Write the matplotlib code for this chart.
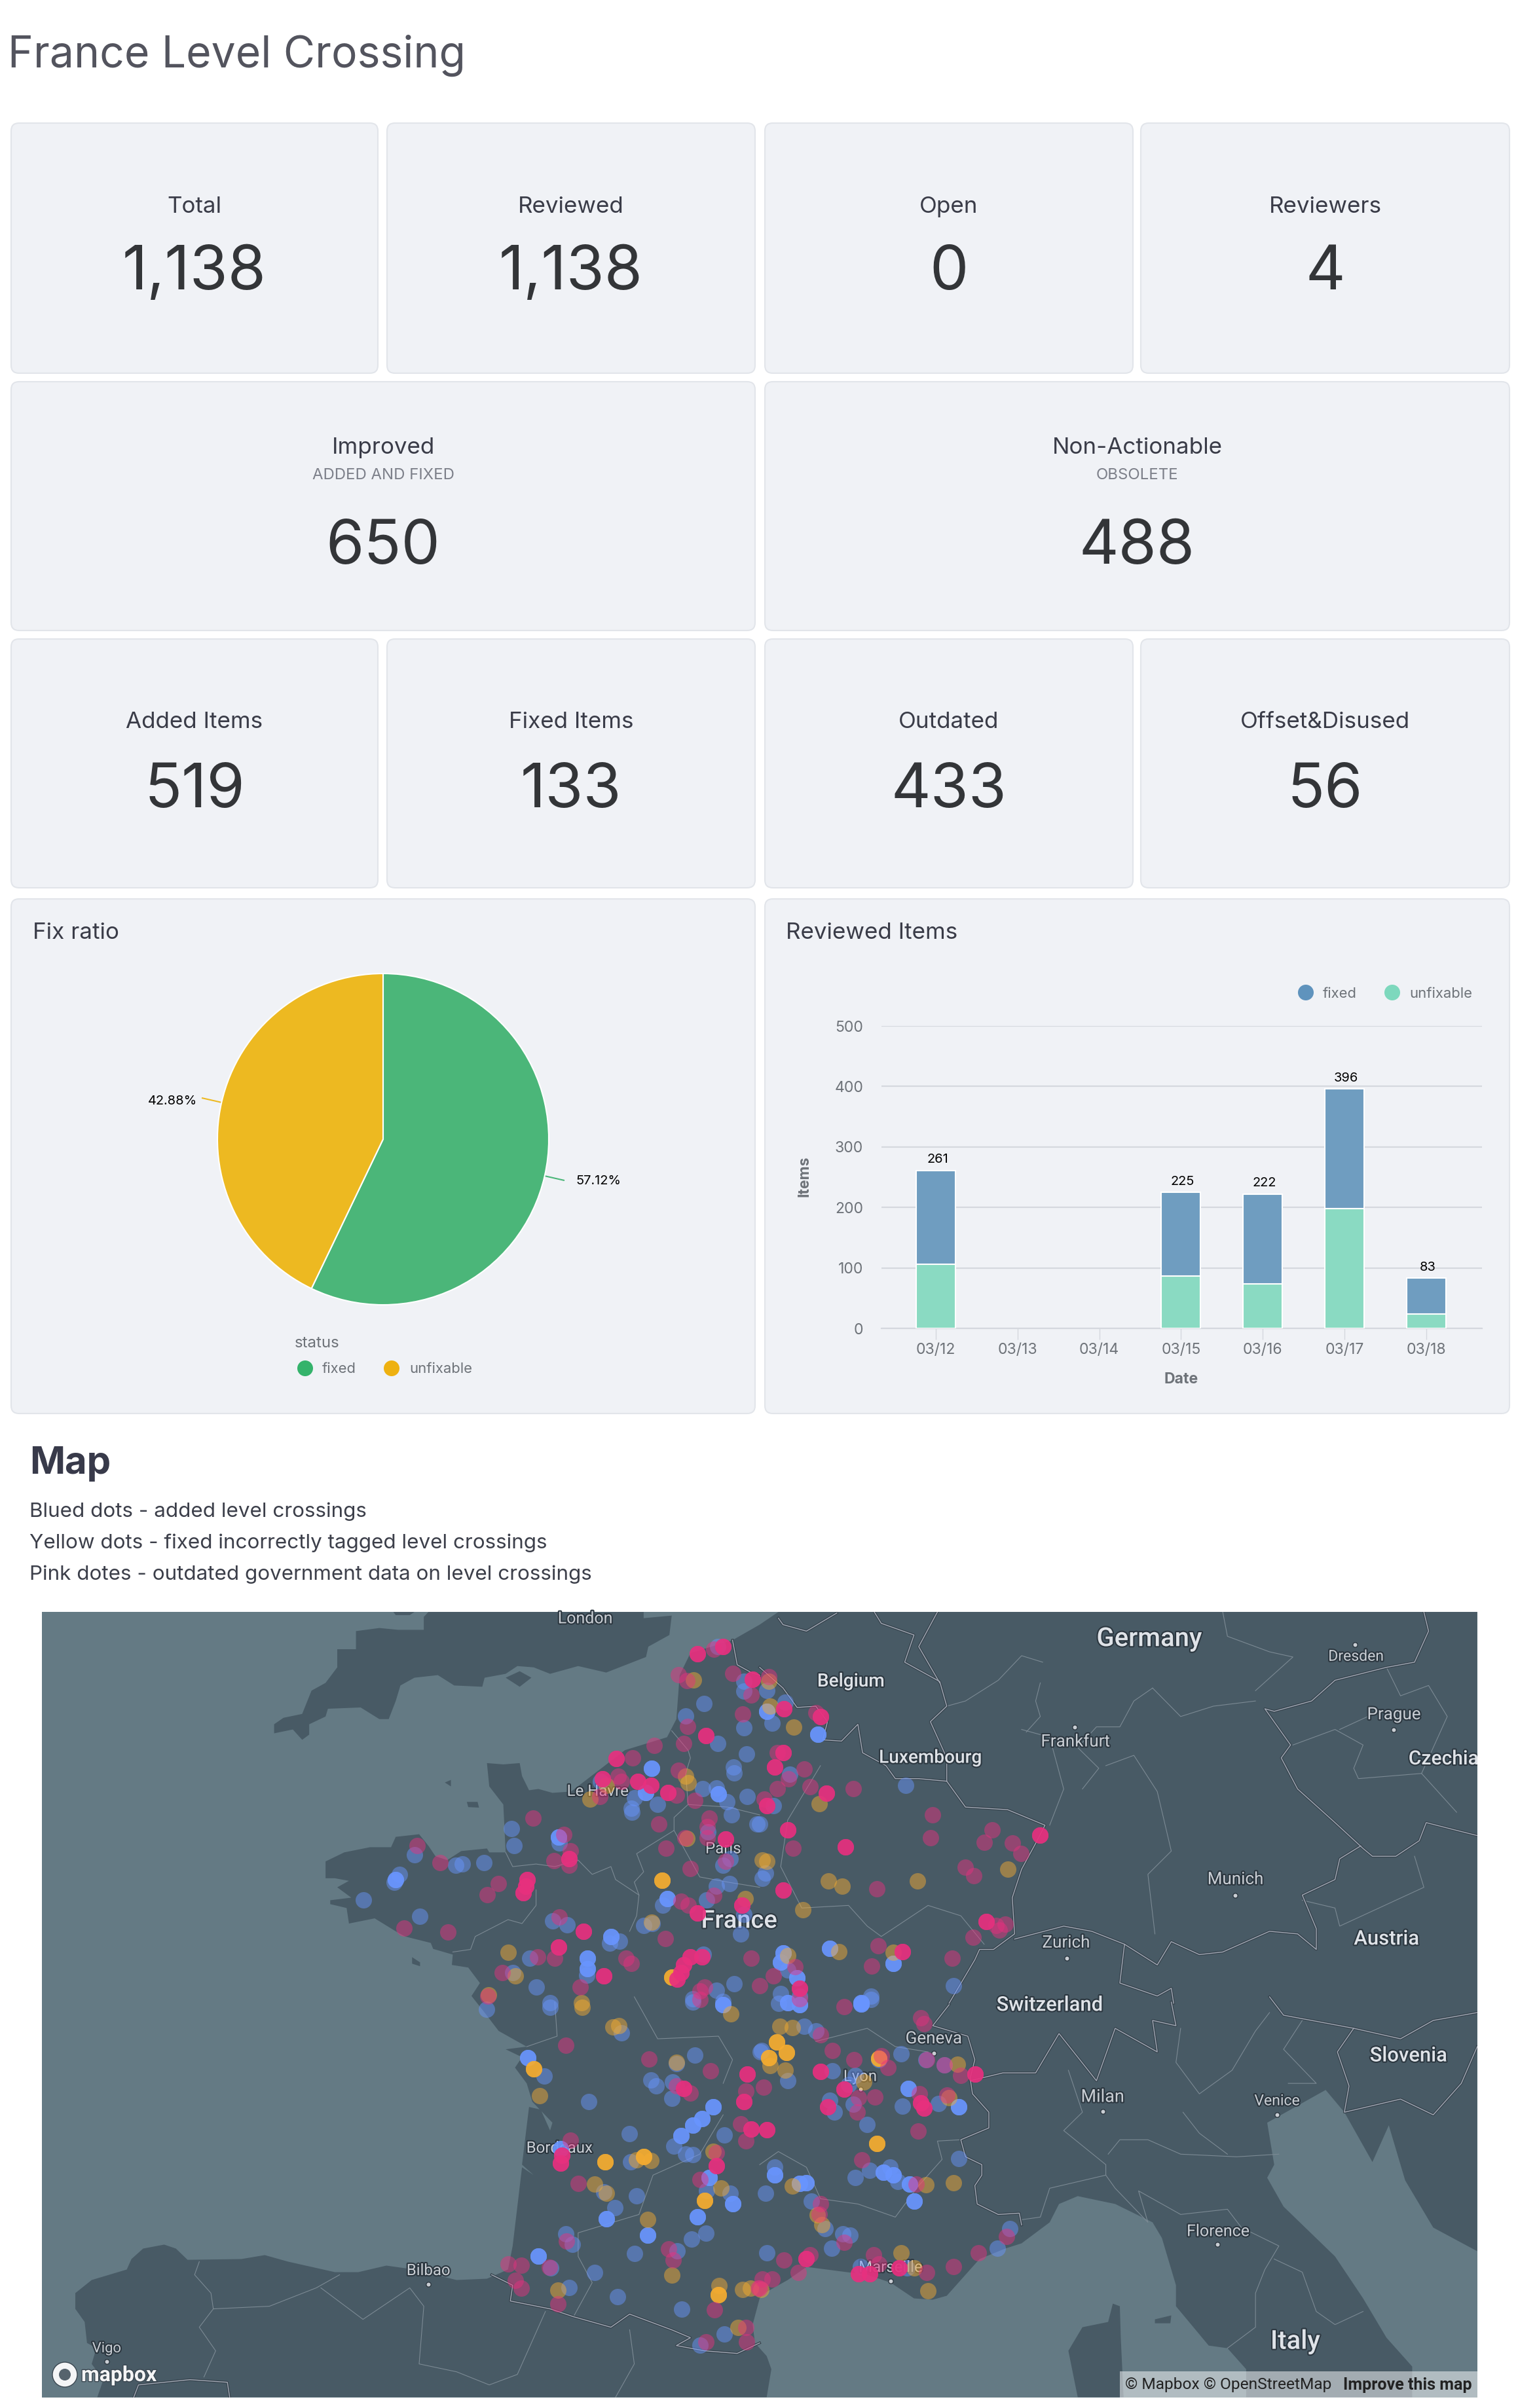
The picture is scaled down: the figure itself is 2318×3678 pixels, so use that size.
import math

import matplotlib
matplotlib.use("Agg")
import matplotlib.pyplot as plt
import matplotlib.patheffects as pe
from matplotlib.patches import Circle, FancyBboxPatch, Polygon, Rectangle

DPI = 100
W, H = 2318, 3678
plt.rcParams["font.family"] = ["Inter", "DejaVu Sans"]

# stat cards
top_labels = ["Total", "Reviewed", "Open", "Reviewers"]
top_values = ["1,138", "1,138", "0", "4"]
mid_labels = ["Improved", "Non-Actionable"]
mid_subs = ["ADDED AND FIXED", "OBSOLETE"]
mid_values = ["650", "488"]
low_labels = ["Added Items", "Fixed Items", "Outdated", "Offset&Disused"]
low_values = ["519", "133", "433", "56"]

# pie
pie_labels = ["fixed", "unfixable"]
pie_values = [57.12, 42.88]
pie_text = ["57.12%", "42.88%"]

# stacked bars
dates = ["03/12", "03/13", "03/14", "03/15", "03/16", "03/17", "03/18"]
bar_pos = [0, 3, 4, 5, 6]
fixed = [155, 138, 148, 198, 59]
unfixable = [106, 87, 74, 198, 24]
totals = [261, 225, 222, 396, 83]
y_ticks = [0, 100, 200, 300, 400, 500]

notes = [
    "Blued dots - added level crossings",
    "Yellow dots - fixed incorrectly tagged level crossings",
    "Pink dotes - outdated government data on level crossings",
]

TILES = {
    "nw": (40, 2440, 1.4, 2.53),
    "ne": (1160, 2440, 1.4, 2.53),
    "sw": (40, 3050, 1.4, 2.497),
    "se": (1160, 3050, 1.4, 2.497),
}

blue_nw = [(1478,190),(1535,325),(1535,362),(1449,410),(1410,458),(1535,503),(1478,565),(1540,605),(1512,655),(1513,677),
    (1337,660),(1337,660),(1228,710),(1446,740),(1475,735),(1480,760),(1480,760),(1498,790),(1541,770),(1300,775),
    (1325,755),(1325,755),(1350,800),(1293,815),(1295,830),(1508,840),(1563,875),(1037,892),(1138,925),(1138,925),
    (1140,950),(1043,960),(1458,905),(830,995),(919,1035),(933,1030),(979,1025),(1490,1035),(1505,1010),(798,1070),
    (790,1090),(790,1090),(787,1100),(1475,1115),(1503,1105),(1455,1170),(1370,1165),(1370,1165),(1361,1190),(721,1170),
    (842,1232),(1125,1250),(1157,1265),(1535,1225),(1320,1268),(1338,1260),(1528,1300),(1250,1310),(1250,1310),(1248,1335),
    (1268,1327),(1077,1393),(1200,1395),(1200,1395),(1200,1435),(1200,1435),(1198,1460),(1090,1505),(1448,1380),(1040,1450),
    (1513,1492),(1476,1518),(1425,1550),(1490,1560),(1120,1565)]
pink_nw = [(1490,190),(1490,190),(1470,200),(1435,218),(1435,218),(1395,298),(1412,322),(1510,293),(1552,315),(1552,315),
    (1550,378),(1532,450),(1414,498),(1453,535),(1453,535),(1343,573),(1405,565),(1296,620),(1262,622),(1262,622),
    (1394,667),(1232,700),(1232,700),(1265,690),(1272,710),(1308,712),(1308,712),(1335,725),(1335,725),(1372,755),
    (1372,755),(1390,765),(1226,770),(1430,785),(1460,853),(1456,885),(1353,875),(1083,853),(1150,915),(1408,928),
    (1456,928),(1495,933),(1495,933),(1368,968),(1163,980),(1160,1010),(1160,1010),(1128,1018),(1160,1035),(1420,1048),
    (1495,1020),(836,960),(885,1025),(1010,1105),(985,1148),(1071,1090),(1071,1090),(1068,1115),(1068,1115),(1062,1142),
    (1062,1142),(1470,1150),(1400,1175),(1415,1188),(1435,1220),(1435,1220),(1530,1190),(1530,1190),(808,1278),(901,1292),
    (1140,1235),(1192,1290),(1192,1290),(1366,1318),(1138,1350),(1138,1350),(1130,1393),(1093,1390),(1283,1395),(1293,1415),
    (1445,1388),(1445,1388),(1420,1390),(1420,1390),(1405,1420),(1405,1420),(1400,1450),(1400,1450),(1392,1475),(1392,1475),
    (1550,1395),(1018,1450),(1235,1463),(1235,1463),(1185,1505),(987,1540),(1440,1520),(1450,1505)]
yellow_nw = [(1427,318),(1410,690),(1415,715),(1205,778),(1412,930),(1360,1092),(1360,1092),(1537,1165),(1337,1255),(1030,1370),
    (1046,1462),(1380,1468),(1380,1468),(1187,1565),(1240,725),(988,1535)]

blue_ne = [(15,360),(15,440),(15,440),(27,485),(55,405),(124,528),(124,528),(65,683),(30,805),(0,875),(312,727),(12,1065),
    (5,1085),(150,1355),(150,1355),(50,1375),(50,1375),(45,1410),(45,1410),(60,1440),(80,1470),(80,1470),(285,1415),(285,1415),
    (415,1500),(238,1540),(217,1565),(217,1565),(45,1530),(85,1540)]
pink_ne = [(20,305),(52,430),(52,430),(120,445),(130,460),(130,460),(38,600),(50,600),(50,600),(32,655),(32,655),(95,663),
    (62,700),(38,740),(108,732),(143,757),(143,757),(200,740),(16,805),(16,805),(10,780),(60,897),(60,897),(72,968),(184,963),
    (184,963),(369,840),(365,928),(497,897),(480,945),(541,950),(558,990),(599,918),(599,918),(440,1042),(458,1075),(251,1127),
    (50,1132),(50,1132),(484,1252),(484,1252),(505,1268),(512,1285),(525,1262),(456,1313),(253,1345),(305,1368),(305,1368),
    (412,1395),(240,1425),(75,1428),(30,1462),(85,1510),(85,1510),(0,1500)]
yellow_ne = [(20,325),(22,420),(73,502),(127,797),(5,1015),(15,1020),(147,1095),(177,1115),(338,1095),(530,1050),(93,1208),
    (170,1368),(285,1370),(60,1385)]

blue_sw = [(984,47),(1120,40),(1425,20),(1490,30),(1490,30),(1272,138),(1073,232),(1073,232),(1108,302),(1430,222),(1390,255),
    (1335,317),(1347,340),(1382,325),(1380,388),(1202,400),(1468,420),(1468,420),(1445,465),(1445,465),(1425,490),(1425,490),
    (1400,530),(1400,530),(1385,570),(1410,600),(1425,603),(1290,522),(1492,527),(1143,580),(1143,580),(1292,630),(1460,690),
    (1460,690),(1505,748),(1510,790),(1510,790),(1235,745),(1305,760),(1258,805),(1240,847),(1240,847),(1435,838),(1435,838),
    (1328,910),(1328,910),(1153,903),(1168,945),(1422,923),(1453,902),(1300,978),(1095,990),(1095,990),(1392,970),(1215,1050),
    (1160,1108),(1264,1143),(1402,1190),(1492,1285),(1440,1328),(1570,210),(1122,1035),(1455,740)]
pink_sw = [(1440,10),(1154,185),(1332,237),(1463,282),(1542,295),(1542,295),(1390,340),(1405,350),(1405,350),(1420,368),
    (1538,360),(1535,400),(1535,400),(1528,485),(1550,505),(1550,505),(1538,550),(1163,548),(1145,605),(1145,605),(1143,635),
    (1143,635),(1475,645),(1475,645),(1440,697),(1180,712),(1155,932),(1373,962),(1383,1003),(1030,1018),(1058,1025),(1118,1032),
    (1046,1080),(1058,1110),(1137,1170),(1471,1193),(1538,1260),(1453,1315),(1540,1315),(1565,1110),(1475,595)]
yellow_sw = [(1507,65),(1188,40),(1255,115),(1267,110),(1085,275),(1085,275),(1097,378),(1390,250),(1468,590),(1238,630),
    (1238,630),(1320,610),(1320,610),(1335,625),(1305,622),(1215,715),(1240,748),(1485,728),(1450,777),(1450,777),(1328,850),
    (1380,1062),(1137,1118),(1481,1100),(1480,1135),(1480,1135),(1532,1117),(1548,1110),(1522,1262)]

blue_se = [(40,25),(60,22),(60,22),(85,30),(85,30),(217,28),(217,28),(238,10),(95,112),(120,130),(303,217),(255,240),(155,283),
    (355,240),(395,260),(205,300),(60,320),(190,335),(318,350),(318,350),(150,395),(200,410),(160,440),(305,418),(382,408),
    (425,420),(425,420),(230,487),(426,618),(32,650),(32,680),(32,680),(205,690),(235,662),(265,670),(265,670),(278,650),
    (285,680),(285,680),(295,705),(320,715),(320,715),(100,708),(100,708),(85,712),(85,712),(12,748),(330,780),(330,780),
    (110,780),(140,885),(178,905),(193,908),(154,958),(15,977),(535,885),(508,958),(215,1030),(315,1035),(4,205)]
pink_se = [(85,8),(181,38),(345,80),(352,102),(130,145),(155,205),(202,240),(260,225),(275,270),(130,285),(130,285),(8,345),
    (357,240),(395,260),(430,300),(460,295),(460,295),(180,352),(180,352),(212,385),(246,382),(145,420),(145,420),(208,440),
    (342,370),(345,405),(345,405),(352,425),(352,425),(400,375),(15,508),(15,508),(339,512),(219,622),(335,715),(130,790),
    (128,830),(180,937),(528,915),(52,1003),(108,983),(100,1000),(100,1000),(243,985),(467,977),(415,1030),(255,1020),
    (298,1033),(298,1033),(357,1052),(83,1052),(212,1055),(212,1055),(235,1055),(235,1055),(27,1075),(5,1075),(0,1110)]
yellow_se = [(43,112),(70,117),(37,172),(37,172),(58,212),(58,212),(20,232),(20,232),(22,262),(55,280),(255,235),(255,235),
    (223,325),(423,258),(405,385),(250,560),(250,560),(414,708),(355,716),(70,722),(123,832),(133,870),(302,976),(330,1033),
    (360,1122),(3,1115)]

# place names: name, crop, x, y, px size, has a town dot
places = [
    ("London", "nw", 1195, 82, 25, False), ("Belgium", "ne", 195, 325, 28, False),
    ("Germany", "ne", 833, 160, 40, False), ("Dresden", "ne", 1275, 228, 23, True),
    ("Frankfurt", "ne", 675, 558, 26, True), ("Luxembourg", "ne", 365, 620, 28, False),
    ("Prague", "ne", 1356, 453, 26, True), ("Le Havre", "nw", 1222, 750, 24, False),
    ("Paris", "nw", 1490, 972, 24, False), ("France", "nw", 1524, 1250, 38, False),
    ("Munich", "ne", 1017, 1090, 26, True), ("Zurich", "ne", 655, 1335, 26, True),
    ("Austria", "ne", 1340, 1320, 31, False), ("Switzerland", "se", 620, 32, 31, False),
    ("Geneva", "se", 372, 160, 26, True), ("Slovenia", "se", 1387, 225, 31, False),
    ("Lyon", "se", 215, 305, 24, True), ("Milan", "se", 733, 382, 27, True),
    ("Venice", "se", 1106, 397, 23, True), ("Florence", "se", 980, 895, 25, True),
    ("Italy", "se", 1145, 1315, 40, False), ("Marseille", "se", 280, 1033, 24, True),
    ("Bordeaux", "sw", 1140, 578, 24, False), ("Bilbao", "sw", 860, 1045, 24, True),
    ("Vigo", "sw", 172, 1342, 22, True),
]
town_dots = {"Dresden": (1273, 183), "Frankfurt": (673, 502), "Prague": (1355, 510), "Munich": (1016, 1150),
             "Zurich": (656, 1395), "Geneva": (372, 215), "Lyon": (215, 352), "Milan": (733, 438),
             "Venice": (1106, 449), "Florence": (978, 945), "Marseille": (280, 1083), "Bilbao": (859, 1095),
             "Vigo": (172, 1390)}

# coastlines and borders, one list per crop
coast_main_nw = [(952,1540),(970,1490),(945,1430),(910,1420),(912,1380),(870,1358),(865,1335),(810,1310),(790,1290),(745,1240),
    (690,1260),(685,1200),(650,1185),(650,1170),(695,1160),(665,1120),(690,1095),(660,1085),(640,1085),(640,1020),(680,985),
    (735,965),(780,965),(790,925),(840,915),(860,960),(875,1000),(900,1015),(930,980),(985,970),(990,985),(1025,985),(1020,800),
    (990,730),(985,640),(1020,645),(1055,640),(1060,690),(1075,745),(1095,740),(1125,755),(1165,750),(1280,590),(1370,540),
    (1390,470),(1397,300),(1420,215),(1510,165),(1568,105)]
coast_main_ne_top = [(40,56),(1534,56)]
coast_main_se = [(1534,970),(1440,880),(1380,700),(1345,490),(1310,630),(1250,440),(1210,355),(1085,480),(1100,640),(1085,690),
    (1120,800),(1230,990),(1290,1150),(1340,1300),(1395,1410),(1395,1527),(1040,1527),(1040,1420),(1000,1340),(960,1330),
    (890,1180),(890,1100),(860,920),(840,860),(760,790),(680,760),(640,790),(620,860),(560,940),(525,960),(470,1000),(400,1140),
    (370,1155),(330,1150),(280,1090),(230,1060),(100,1030),(60,1080),(10,1130),(0,1150),(-15,1250),(-10,1320),(15,1370),
    (25,1420),(15,1527)]
coast_main_sw = [(152,1527),(165,1460),(140,1400),(150,1340),(130,1320),(125,1240),(105,1190),(105,1130),(140,1080),(215,1040),
    (225,1000),(250,960),(295,945),(320,960),(345,1003),(460,1000),(510,985),(560,1010),(660,1050),(710,1050),(770,1025),
    (830,1040),(920,1080),(985,1075),(1030,1040),(1040,950),(1060,650),(1085,680),(1060,640),(1075,420),(1100,430),(1120,510),
    (1125,480),(1082,400),(1070,330),(1045,270),(1060,230),(1025,200),(1070,190),(1010,130),(980,60)]
england = [(860,56),(1320,56),(1320,80),(1380,70),(1375,145),(1330,190),(1325,230),(1240,290),(1180,265),(1120,295),(1085,270),
    (1050,265),(1025,295),(980,310),(975,345),(915,340),(880,300),(830,310),(800,340),(790,400),(775,470),(755,470),(715,425),
    (645,430),(640,460),(605,490),(605,530),(590,550),(570,510),(530,525),(530,490),(550,465),(590,450),(610,360),(640,330),
    (665,270),(665,200),(705,200),(705,130),(755,118),(795,125),(850,125),(850,75)]
small_islands_nw = [
    [(785,56),(830,56),(820,68),(790,68)],
    [(1025,310),(1055,285),(1080,310),(1055,345)],
    [(895,715),(908,705),(908,730)],
    [(942,790),(965,790),(968,812),(945,810)],
    [(825,1390),(842,1410),(842,1425),(825,1415)],
]
corsica = [(660,1350),(690,1260),(745,1240),(755,1170),(770,1180),(772,1300),(778,1527),(680,1527)]
elba = [(845,1230),(880,1215),(878,1245),(845,1245)]

borders = [
    ("nw", [(1510,165),(1520,260),(1550,290),(1568,300)]),
    ("ne", [(0,270),(50,350),(80,425),(120,420),(145,480),(135,550),(175,555),(210,490),(220,600),(270,650),(290,700),(340,700),
            (400,710),(440,810),(530,820),(610,880),(590,950),(560,1050),(540,1160),(545,1300),(500,1360),(470,1360),(460,1400),(405,1568)]),
    ("se", [(405,30),(370,110),(445,150),(460,240),(450,310),(455,370),(490,440),(490,500),(430,545),(440,610),(475,640),(475,680),
            (460,720),(465,790),(510,830),(555,825),(560,870)]),
    ("ne", [(40,80),(50,105),(100,130),(165,60)]),
    ("ne", [(245,56),(260,100),(330,145),(310,250),(385,325),(400,420),(365,480),(400,620),(400,710)]),
    ("ne", [(380,56),(340,190),(385,330)]),
    ("ne", [(1420,56),(1430,130),(1400,250),(1340,270),(1230,320),(1180,400),(1100,440),(1080,430),(1135,570),(1115,620),(1150,740),
            (1230,870),(1290,970),(1310,1000),(1360,1000),(1410,940),(1425,870),(1490,900),(1534,920)]),
    ("ne", [(1285,960),(1240,1010),(1230,1090),(1160,1150),(1190,1280),(1190,1360),(1150,1300),(1090,1290),(990,1370),(940,1380),
            (880,1330),(850,1420),(780,1340),(710,1290),(650,1270),(545,1320)]),
    ("ne", [(780,1340),(770,1490),(850,1540),(880,1510),(885,1568)]),
    ("se", [(880,20),(890,110),(840,90),(850,210),(760,120),(720,320),(640,140),(590,290),(520,290),(450,320)]),
    ("se", [(1090,0),(1120,70),(1270,120),(1370,160),(1440,90),(1534,60)]),
    ("se", [(1270,120),(1235,210),(1260,340),(1250,440),(1370,390),(1440,450),(1500,330),(1534,190)]),
    ("sw", [(995,1060),(1040,1100),(1035,1160),(1120,1190),(1170,1220),(1250,1260),(1290,1210),(1380,1270),(1420,1300),(1390,1330),
            (1450,1350),(1520,1360),(1568,1320)]),
    ("sw", [(230,1527),(240,1480),(350,1460),(430,1470),(435,1527)]),
]
regions = [
    ("nw", [(1025,985),(1040,1040),(1090,1030),(1130,1040),(1180,1015),(1210,1070),(1250,1040),(1260,1090),(1310,1150),(1305,1230),(1290,1290)]),
    ("nw", [(1090,1130),(1090,1190),(1060,1260),(1030,1245),(960,1310),(950,1360),(912,1370)]),
    ("nw", [(1380,515),(1415,590),(1420,620),(1410,680),(1415,800),(1385,850),(1385,900),(1305,990),(1320,1060),(1300,1100),(1310,1150)]),
    ("nw", [(1415,800),(1500,810),(1568,840)]),
    ("nw", [(1385,900),(1440,1080),(1500,1100),(1568,1120)]),
    ("ne", [(130,650),(60,860),(45,1040),(90,1200),(190,1190),(230,1270),(260,1310),(360,1190),(430,1230),(480,1340)]),
    ("ne", [(605,250),(560,225),(510,320),(440,400),(400,420)]),
    ("ne", [(560,510),(620,540),(650,740),(620,880)]),
    ("ne", [(600,330),(590,400),(600,460),(570,520)]),
    ("ne", [(840,350),(800,400),(770,500),(720,500),(680,580),(725,660),(690,740)]),
    ("ne", [(840,350),(900,460),(970,420),(1060,400)]),
    ("ne", [(740,650),(800,610),(850,750),(880,980),(830,1070),(845,1300)]),
    ("ne", [(990,56),(1000,150),(1090,210),(1140,230),(1060,360)]),
    ("ne", [(1140,570),(1230,510),(1290,570),(1270,660),(1280,700),(1415,680),(1490,830)]),
    ("ne", [(1300,460),(1240,510)]),
    ("ne", [(1415,680),(1470,460),(1430,340),(1370,380),(1340,270)]),
    ("ne", [(1160,1170),(1230,1200),(1240,1270),(1420,1120),(1400,1000)]),
    ("sw", [(1130,20),(1135,150),(1070,190)]),
    ("sw", [(1300,0),(1350,160),(1480,150),(1510,240),(1490,330)]),
    ("sw", [(1490,450),(1440,600),(1340,680),(1310,830),(1180,900),(1180,990),(1210,1090),(1170,1220)]),
    ("sw", [(370,1010),(360,1060),(395,1130),(400,1190),(370,1260),(405,1350),(380,1450)]),
    ("sw", [(400,1190),(520,1180),(620,1110),(670,1060)]),
    ("sw", [(630,1110),(720,1230),(820,1110),(850,1180),(840,1400),(920,1430),(990,1480),(1050,1440),(1110,1200)]),
    ("sw", [(1290,1270),(1300,1400),(1260,1527)]),
    ("se", [(120,170),(230,120),(290,190),(360,210)]),
    ("se", [(0,640),(40,590),(100,650),(130,770),(210,790),(290,840),(340,720),(390,620),(380,550),(430,545)]),
    ("se", [(660,280),(690,440),(650,510),(740,640),(740,680),(620,730),(600,840),(560,850)]),
    ("se", [(740,680),(760,730),(830,860),(810,740),(900,830),(1000,810),(1030,880),(1110,950),(1080,1040),(1060,1130),(1060,1260),(1000,1340)]),
    ("se", [(745,600),(770,545),(830,545),(900,600),(1020,610),(1110,600)]),
    ("se", [(900,120),(890,250),(940,370),(1010,280),(1060,130),(1090,60)]),
    ("se", [(1130,330),(1190,330),(1120,200),(1160,90)]),
    ("se", [(905,440),(940,520),(1000,600)]),
    ("se", [(1100,1000),(1160,1050),(1190,1200),(1230,1250),(1290,1200)]),
]


def tile_xy(tile, points):
    ox, oy, sx, sy = TILES[tile]
    return [(ox + x / sx, oy + y / sy) for x, y in points]


def fs(px):
    return px * 72 / DPI


def card(ax, x0, y0, x1, y1):
    ax.add_patch(FancyBboxPatch((x0 + 12, y0 + 12), x1 - x0 - 24, y1 - y0 - 24,
                                boxstyle="round,pad=12,rounding_size=12",
                                facecolor="#f0f2f6", edgecolor="#e2e5ea", linewidth=1.5))


def stat(ax, cx, label, value, y_label, y_value, sub=None, y_sub=None):
    ax.text(cx, y_label, label, ha="center", va="center", fontsize=fs(35), color="#3a3c48")
    if sub:
        ax.text(cx, y_sub, sub, ha="center", va="center", fontsize=fs(24), color="#7d808a")
    ax.text(cx, y_value, value, ha="center", va="center", fontsize=fs(94), color="#333538")


fig = plt.figure(figsize=(W / DPI, H / DPI), dpi=DPI, facecolor="white")
page = fig.add_axes([0, 0, 1, 1])
page.set_xlim(0, W)
page.set_ylim(H, 0)
page.axis("off")

page.text(12, 85, "France Level Crossing", fontsize=fs(66), color="#53545e", va="center")

col_x = [(17, 577), (591, 1153), (1168, 1730), (1742, 2305)]
for (x0, x1), label, value in zip(col_x, top_labels, top_values):
    card(page, x0, 188, x1, 570)
    stat(page, (x0 + x1) / 2, label, value, 316, 417)
for (x0, x1), label, sub, value in zip([(17, 1153), (1168, 2305)], mid_labels, mid_subs, mid_values):
    card(page, x0, 583, x1, 963)
    stat(page, (x0 + x1) / 2, label, value, 684, 836, sub, 726)
for (x0, x1), label, value in zip(col_x, low_labels, low_values):
    card(page, x0, 976, x1, 1356)
    stat(page, (x0 + x1) / 2, label, value, 1103, 1208)
card(page, 17, 1373, 1153, 2159)
card(page, 1168, 1373, 2305, 2159)

page.text(50, 1425, "Fix ratio", fontsize=fs(35), color="#3a3c48", va="center")
page.text(1200, 1425, "Reviewed Items", fontsize=fs(35), color="#3a3c48", va="center")

# pie, square axes centred on the chart area
cx, cy, r = 585, 1740, 253
pie_ax = fig.add_axes([(cx - r) / W, 1 - (cy + r) / H, 2 * r / W, 2 * r / H])
pie_colors = ["#4bb679", "#edb921"]
wedges, _ = pie_ax.pie(pie_values, colors=pie_colors, startangle=90, counterclock=False, radius=1,
                       wedgeprops={"edgecolor": "white", "linewidth": 1.5})
pie_ax.set_xlim(-1, 1)
pie_ax.set_ylim(-1, 1)
for wedge, text, color, offset in zip(wedges, pie_text, pie_colors, [(82, 8), (-75, -2)]):
    a = math.radians((wedge.theta1 + wedge.theta2) / 2)
    x0, y0 = cx + r * math.cos(a), cy - r * math.sin(a)
    x1, y1 = cx + (r + 30) * math.cos(a), cy - (r + 30) * math.sin(a)
    page.plot([x0, x1], [y0, y1], color=color, lw=1.5)
    page.text(x0 + offset[0], y0 + offset[1], text, fontsize=fs(20), ha="center", va="center", color="black")

page.text(450, 2052, "status", fontsize=fs(24), color="#6e7379", va="center")
for x_dot, x_text, name, color in zip([466, 598], [492, 625], pie_labels, ["#34b36b", "#eeb111"]):
    page.add_patch(Circle((x_dot, 2090), 12, color=color, lw=0))
    page.text(x_text, 2091, name, fontsize=fs(22), color="#6e7379", va="center")

# stacked bars
bx0, bx1, by0, by1 = 1346, 2262.5, 1567, 2029
bar_ax = fig.add_axes([bx0 / W, 1 - by1 / H, (bx1 - bx0) / W, (by1 - by0) / H])
bar_ax.set_facecolor("none")
bar_ax.bar(bar_pos, unfixable, width=0.48, color="#8adac2", edgecolor="white", linewidth=1.5, zorder=3)
bar_ax.bar(bar_pos, fixed, bottom=unfixable, width=0.48, color="#6f9dc0", edgecolor="white", linewidth=1.5, zorder=3)
for p, total in zip(bar_pos, totals):
    bar_ax.text(p + 0.02, total + 8, str(total), ha="center", va="bottom", fontsize=fs(20), color="black")
bar_ax.set_xlim(-0.666, 6.68)
bar_ax.set_ylim(0, 500)
bar_ax.set_yticks(y_ticks)
bar_ax.set_xticks(range(len(dates)))
bar_ax.set_xticklabels(dates)
bar_ax.grid(axis="y", color="#d5d8de", linewidth=1.6, zorder=0)
bar_ax.set_axisbelow(True)
for side in ["top", "left", "right"]:
    bar_ax.spines[side].set_visible(False)
bar_ax.spines["bottom"].set_color("#d5d8de")
bar_ax.spines["bottom"].set_linewidth(1.6)
bar_ax.tick_params(axis="y", length=0, pad=20, labelsize=fs(23), labelcolor="#6e7379")
bar_ax.tick_params(axis="x", length=12, width=1, color="#d5d8de", pad=4, labelsize=fs(23), labelcolor="#6e7379")
page.text(1228, 1797, "Items", rotation=90, fontsize=fs(23), fontweight="bold", color="#6e7379", ha="center", va="center")
page.text(1804, 2107, "Date", fontsize=fs(23), fontweight="bold", color="#6e7379", ha="center", va="center")
for x_dot, x_text, name, color in zip([1994, 2126], [2020, 2152], ["fixed", "unfixable"], ["#5f93bd", "#7dd8bd"]):
    page.add_patch(Circle((x_dot, 1516), 12, color=color, lw=0))
    page.text(x_text, 1518, name, fontsize=fs(22), color="#6e7379", va="center")

# map heading
page.text(45, 2236, "Map", fontsize=fs(58), fontweight="bold", color="#383a4a", va="center")
for y, line in zip([2309, 2357, 2405], notes):
    page.text(45, y, line, fontsize=fs(31.4), color="#3c3f4a", va="center")

# map
mx0, mx1, my0, my1 = 64, 2256, 2462, 3662
map_ax = fig.add_axes([mx0 / W, 1 - my1 / H, (mx1 - mx0) / W, (my1 - my0) / H])
map_ax.set_xlim(mx0, mx1)
map_ax.set_ylim(my1, my0)
map_ax.axis("off")
map_ax.add_patch(Rectangle((mx0, my0), mx1 - mx0, my1 - my0, facecolor="#647a84", lw=0, zorder=0))

LAND = "#485a65"
main_outline = (tile_xy("nw", coast_main_nw) + tile_xy("ne", coast_main_ne_top)
                + tile_xy("se", coast_main_se) + tile_xy("sw", coast_main_sw))
map_ax.add_patch(Polygon(main_outline, closed=True, facecolor=LAND, lw=0, zorder=1))
map_ax.add_patch(Polygon(tile_xy("nw", england), closed=True, facecolor=LAND, lw=0, zorder=1))
for island in small_islands_nw:
    map_ax.add_patch(Polygon(tile_xy("nw", island), closed=True, facecolor=LAND, lw=0, zorder=1))
map_ax.add_patch(Polygon(tile_xy("se", corsica), closed=True, facecolor=LAND, lw=0, zorder=1))
map_ax.add_patch(Polygon(tile_xy("se", elba), closed=True, facecolor=LAND, lw=0, zorder=1))

for tile, pts in regions:
    xs, ys = zip(*tile_xy(tile, pts))
    map_ax.plot(xs, ys, color="#7c8a94", lw=0.8, zorder=2)
for tile, pts in borders:
    xs, ys = zip(*tile_xy(tile, pts))
    map_ax.plot(xs, ys, color="#35424c", lw=2.8, zorder=2, solid_joinstyle="round")
    map_ax.plot(xs, ys, color="#a3a9b5", lw=1.0, zorder=3, solid_joinstyle="round")

halo = [pe.withStroke(linewidth=3, foreground="#2c3740")]
for name, tile, zx, zy, size, has_dot in places:
    (x, y), = tile_xy(tile, [(zx, zy)])
    big = size >= 28
    map_ax.text(x, y, name, ha="center", va="center", fontsize=fs(size), family="Roboto",
                fontweight="medium" if big else "normal", color="#dfe3e8" if big else "#c9ced4",
                path_effects=halo, zorder=4)
    if has_dot:
        (dx, dy), = tile_xy(tile, [town_dots[name]])
        map_ax.scatter([dx], [dy], s=28, color="#c9ced4", edgecolor="#2c3740", linewidth=1, zorder=4)
(x, y), = tile_xy("ne", [(1462, 625)])
map_ax.text(x, y, "Czechia", ha="center", va="center", fontsize=fs(30), family="Roboto", fontweight="medium",
            color="#dfe3e8", path_effects=halo, zorder=4, clip_on=True)

# a point read twice sits on a stack of crossings, so it gets an extra layer and shows brighter
dot_s = fs(25) ** 2
for color, groups in [
    ("#6a96ff", [("nw", blue_nw), ("ne", blue_ne), ("sw", blue_sw), ("se", blue_se)]),
    ("#f7ad30", [("nw", yellow_nw), ("ne", yellow_ne), ("sw", yellow_sw), ("se", yellow_se)]),
    ("#e8307f", [("nw", pink_nw), ("ne", pink_ne), ("sw", pink_sw), ("se", pink_se)]),
]:
    for tile, pts in groups:
        layered = pts + [p for p in pts if pts.count(p) > 1]
        xs, ys = zip(*tile_xy(tile, layered))
        map_ax.scatter(xs, ys, s=dot_s, color=color, alpha=0.47, linewidths=0, zorder=5)

# mapbox logo and attribution
map_ax.add_patch(Circle((99, 3627), 19, facecolor="#f4f5f6", edgecolor="#3a4650", lw=1, zorder=6))
map_ax.add_patch(Circle((99, 3627), 9, facecolor="#56636d", lw=0, zorder=7))
map_ax.text(124, 3628, "mapbox", fontsize=fs(32), fontweight="bold", color="#f4f5f6", va="center", family="Roboto",
            path_effects=[pe.withStroke(linewidth=2, foreground="#3a4650")], zorder=6)
map_ax.add_patch(Rectangle((1710, 3622), mx1 - 1710, my1 - 3622, facecolor="white", alpha=0.5, lw=0, zorder=6))
map_ax.text(1718, 3643, "© Mapbox © OpenStreetMap", fontsize=fs(24.5), color="#222", va="center", family="Roboto", zorder=7)
map_ax.text(2248, 3643, "Improve this map", fontsize=fs(25), fontweight="bold", color="#222", va="center", ha="right",
            family="Roboto", zorder=7)

fig.savefig("out.png", dpi=DPI)
